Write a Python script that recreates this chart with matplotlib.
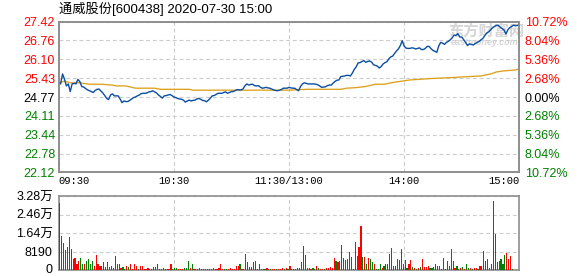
import numpy as np
import matplotlib.pyplot as plt
from matplotlib.transforms import ScaledTranslation

# Fonts: Latin from Liberation Sans, CJK glyphs fall back to Noto Sans CJK
plt.rcParams['font.family'] = ['Liberation Sans', 'Noto Sans CJK SC']

# Chart texts
TITLE = "通威股份[600438] 2020-07-30 15:00"
PREV_CLOSE = 24.77

PRICE_TICKS = [22.12, 22.78, 23.44, 24.11, 24.77, 25.43, 26.10, 26.76, 27.42]
PRICE_LABELS = ["22.12", "22.78", "23.44", "24.11", "24.77", "25.43", "26.10", "26.76", "27.42"]
PCT_LABELS = ["10.72%", "8.04%", "5.36%", "2.68%", "0.00%", "2.68%", "5.36%", "8.04%", "10.72%"]
TIME_TICKS = [0, 60, 120, 180, 240]
TIME_LABELS = ["09:30", "10:30", "11:30/13:00", "14:00", "15:00"]
VOL_TICKS = [0, 8190, 16380, 24570, 32760]
VOL_LABELS = ["0", "8190", "1.64万", "2.46万", "3.28万"]

# Minute prices, 09:30 .. 15:00 (241 points)
PRICE = [
    25.27, 25.23, 25.58, 25.40, 25.16, 25.23, 24.96, 25.23, 25.25, 25.23,
    25.39, 25.31, 25.14, 25.12, 25.07, 25.02, 24.99, 24.96, 24.93, 25.00,
    25.04, 25.05, 24.98, 24.91, 24.82, 24.72, 24.68, 24.84, 24.88, 24.81,
    24.81, 24.81, 24.70, 24.57, 24.63, 24.61, 24.61, 24.65, 24.70, 24.75,
    24.77, 24.81, 24.84, 24.89, 24.90, 24.90, 24.91, 24.95, 24.96, 24.99,
    24.95, 24.91, 24.84, 24.79, 24.73, 24.81, 24.82, 24.84, 24.86, 24.82,
    24.77, 24.75, 24.72, 24.70, 24.69, 24.66, 24.59, 24.63, 24.66, 24.63,
    24.65, 24.66, 24.70, 24.72, 24.69, 24.65, 24.64, 24.60, 24.66, 24.73,
    24.81, 24.82, 24.86, 24.90, 24.90, 24.90, 24.93, 24.95, 24.90, 24.93,
    24.96, 24.96, 25.00, 25.03, 25.02, 25.02, 25.05, 25.16, 25.23, 25.19,
    25.21, 25.22, 25.17, 25.16, 25.17, 25.12, 25.08, 25.09, 25.11, 25.09,
    25.08, 25.05, 25.02, 25.00, 24.99, 25.01, 25.03, 25.08, 25.08, 25.08,
    25.11, 25.09, 25.08, 25.08, 25.03, 24.99, 25.14, 25.23, 25.27, 25.25,
    25.23, 25.23, 25.23, 25.23, 25.22, 25.20, 25.16, 25.11, 25.12, 25.13,
    25.17, 25.19, 25.19, 25.26, 25.32, 25.36, 25.37, 25.49, 25.50, 25.51,
    25.53, 25.53, 25.51, 25.61, 25.74, 25.83, 25.97, 25.98, 26.02, 26.05,
    25.99, 26.02, 26.04, 26.00, 25.91, 25.88, 25.86, 25.79, 25.84, 25.93,
    25.98, 26.01, 26.11, 26.18, 26.21, 26.30, 26.39, 26.46, 26.58, 26.75,
    26.56, 26.49, 26.48, 26.48, 26.50, 26.49, 26.46, 26.48, 26.50, 26.44,
    26.44, 26.48, 26.55, 26.55, 26.47, 26.41, 26.38, 26.34, 26.56, 26.69,
    26.67, 26.62, 26.69, 26.73, 26.78, 26.85, 26.95, 26.94, 27.00, 26.88,
    26.88, 26.79, 26.69, 26.58, 26.64, 26.62, 26.60, 26.65, 26.69, 26.72,
    26.78, 26.83, 26.93, 27.02, 27.06, 27.13, 27.20, 27.25, 27.29, 27.29,
    27.23, 27.18, 27.13, 26.99, 27.13, 27.21, 27.25, 27.30, 27.28, 27.29,
    27.30,
]

# Average price line (minute, price)
AVG_MINUTE = [0, 3, 6, 11, 16, 22, 28, 30, 35, 40, 50, 53, 60, 68, 70, 120,
              125, 130, 147, 150, 155, 160, 165, 170, 173, 178, 183, 194, 204,
              214, 220, 225, 228, 232, 238, 240]
AVG_PRICE = [25.26, 25.33, 25.27, 25.27, 25.22, 25.22, 25.19, 25.16, 25.16,
             25.08, 25.08, 25.04, 25.04, 25.04, 25.01, 25.01, 25.03, 25.04,
             25.04, 25.08, 25.10, 25.14, 25.22, 25.22, 25.27, 25.32, 25.37,
             25.42, 25.45, 25.49, 25.51, 25.58, 25.65, 25.69, 25.72, 25.76]

# Minute volume (shares) and direction (1 = up / red, 0 = down / green)
VOLUME = [
    29700, 15300, 12100, 8950, 10300, 14900, 9400, 4850, 5300, 3000,
    4250, 5300, 2600, 2600, 3950, 4850, 2600, 3950, 2100, 6700,
    2600, 2100, 2100, 3500, 1350, 3500, 1350, 1800, 900, 6200,
    3000, 3000, 900, 1650, 450, 2100, 1650, 2600, 450, 2600,
    2100, 450, 2100, 2100, 450, 450, 900, 450, 450, 1650,
    1650, 3000, 450, 450, 900, 450, 450, 450, 2600, 450,
    1200, 1200, 450, 450, 450, 900, 1200, 3950, 1200, 2600,
    450, 450, 450, 1200, 450, 450, 450, 450, 450, 450,
    1200, 450, 450, 1200, 2600, 450, 450, 450, 450, 900,
    450, 450, 2100, 1800, 2600, 450, 450, 7100, 3500, 1350,
    1350, 3500, 3950, 450, 3000, 450, 450, 450, 900, 450,
    450, 450, 450, 450, 450, 450, 1200, 450, 1200, 450,
    2100,
    450, 450, 450, 1200, 1200, 3500, 10800, 6700, 900, 1200,
    450, 1200, 450, 2100, 900, 450, 450, 450, 900, 900,
    1650, 900, 5300, 3950, 3500, 3950, 11200, 5300, 4400, 4850,
    8050, 5750, 450, 12600, 6200, 10300, 19400, 5750, 5750, 2600,
    5300, 4850, 3500, 3000, 450, 450, 3000, 1200, 2100, 2600,
    2600, 7100, 9850, 1800, 2100, 4850, 4400, 9400, 3000,
    4400, 1200, 3000, 4400, 1650, 1200, 450, 1200, 1650, 4850,
    1650, 1650, 2100, 900, 1200, 1650, 2600, 2100, 2100, 450,
    5300, 450, 3950, 2100, 9400, 3950, 900, 2100, 450, 900,
    1350, 450, 2600, 900, 900, 450, 900, 900, 450, 1800,
    2100, 8500, 3950, 4850, 900, 3000, 30800, 16200, 3500, 3950,
    4850, 2600, 6700, 7600, 4850, 6200, 450, 0, 0, 0,
    24900,
]
VOL_UP = [
    0, 1, 0, 0, 1, 0, 1, 0, 1, 1,
    1, 0, 0, 1, 0, 0, 0, 0, 1, 1,
    1, 1, 0, 0, 0, 0, 1, 1, 0, 1,
    0, 0, 1, 0, 0, 1, 0, 1, 1, 1,
    1, 0, 1, 1, 1, 1, 1, 0, 0, 1,
    0, 0, 1, 0, 0, 1, 1, 1, 1, 0,
    0, 0, 1, 1, 1, 0, 0, 0, 1, 0,
    1, 1, 1, 1, 0, 0, 1, 0, 1, 0,
    1, 0, 1, 1, 1, 1, 0, 0, 1, 1,
    1, 1, 1, 1, 0, 1, 1, 1, 1, 0,
    0, 0, 1, 1, 0, 0, 0, 0, 1, 1,
    0, 1, 1, 0, 1, 1, 1, 0, 1, 0,
    1,
    0, 1, 0, 0, 0, 1, 1, 1, 1, 0,
    1, 0, 0, 1, 0, 1, 1, 0, 1, 1,
    1, 1, 1, 0, 1, 1, 1, 0, 0, 1,
    1, 0, 1, 1, 1, 1, 1, 0, 1, 0,
    1, 0, 0, 1, 0, 0, 0, 1, 0, 0,
    1, 1, 1, 0, 1, 1, 1, 1, 1,
    0, 0, 1, 1, 0, 1, 0, 1, 0, 1,
    1, 1, 1, 0, 0, 0, 0, 1, 1, 0,
    1, 0, 1, 0, 1, 1, 1, 0, 0, 1,
    0, 1, 0, 0, 1, 0, 1, 1, 0, 1,
    1, 1, 1, 0, 1, 1, 1, 0, 0, 1,
    0, 0, 0, 1, 1, 1, 0, 1, 1, 1,
    1,
]

# Styles
PRICE_COLOR = '#0a4ea3'
AVG_COLOR = '#dca11c'
UP_COLOR = '#ff0000'
DOWN_COLOR = '#008000'
FLAT_COLOR = '#000000'
GRID_COLOR = '#cccccc'
GRID_STYLE = (0, (3.5, 2.5))
SPINE_COLOR = '#8e8e8e'
WATERMARK_COLOR = '#d6d6d6'
W, H = 578, 276


def label_color(value):
    if value > PREV_CLOSE + 0.001:
        return UP_COLOR
    if value < PREV_CLOSE - 0.001:
        return DOWN_COLOR
    return FLAT_COLOR


def style_frame(ax):
    for spine in ax.spines.values():
        spine.set_color(SPINE_COLOR)
        spine.set_linewidth(1.2)
    ax.tick_params(length=0)


def main():
    fig = plt.figure(figsize=(W / 100, H / 100), dpi=100)
    left, right = 58.7, 519.3
    ax = fig.add_axes([left / W, 1 - 172.3 / H, (right - left) / W, 150.6 / H])
    axv = fig.add_axes([left / W, 1 - 270.3 / H, (right - left) / W, 74 / H])

    minutes = np.arange(len(PRICE))

    # Price panel
    ax.plot(minutes, PRICE, color=PRICE_COLOR, linewidth=1.0, zorder=3)
    ax.plot(AVG_MINUTE, AVG_PRICE, color=AVG_COLOR, linewidth=0.95, zorder=2)
    ax.set_xlim(0, 240)
    ax.set_ylim(PRICE_TICKS[0], PRICE_TICKS[-1])
    ax.set_yticks(PRICE_TICKS)
    ax.set_yticklabels(PRICE_LABELS, fontsize=9)
    for lab, v in zip(ax.get_yticklabels(), PRICE_TICKS):
        lab.set_color(label_color(v))
    ax.set_xticks(TIME_TICKS)
    ax.set_xticklabels(TIME_LABELS, fontsize=7.6, family='Liberation Mono')
    xlabs = ax.get_xticklabels()
    xlabs[0].set_horizontalalignment('left')
    xlabs[-1].set_horizontalalignment('right')
    ax.tick_params(axis='y', pad=2.6)
    ax.tick_params(axis='x', pad=3.0)
    ax.grid(True, color=GRID_COLOR, linestyle=GRID_STYLE, linewidth=0.8)
    style_frame(ax)

    # Percent labels on the right
    axr = ax.twinx()
    axr.set_ylim(ax.get_ylim())
    axr.set_yticks(PRICE_TICKS)
    axr.set_yticklabels(PCT_LABELS[::-1], fontsize=9)
    for lab, v in zip(axr.get_yticklabels(), PRICE_TICKS):
        lab.set_color(label_color(v))
    axr.tick_params(axis='y', pad=3.8)
    style_frame(axr)

    # Watermark
    ax.text(0.845, 0.938, "东方财富网", transform=ax.transAxes, fontsize=11,
            fontweight='bold', color=WATERMARK_COLOR, va='center', ha='left',
            family=['Noto Sans CJK SC'], zorder=1)
    ax.text(0.998, 0.862, "eastmoney.com", transform=ax.transAxes, fontsize=6.5,
            fontweight='bold', style='italic', color=WATERMARK_COLOR,
            va='center', ha='right', zorder=1)

    # Volume panel
    colors = [UP_COLOR if u else DOWN_COLOR for u in VOL_UP]
    axv.bar(minutes + 0.5, VOLUME, width=0.6, color=colors, linewidth=0,
            antialiased=False, zorder=3)
    axv.set_xlim(0, 240)
    axv.set_ylim(VOL_TICKS[0], VOL_TICKS[-1])
    axv.set_yticks(VOL_TICKS)
    axv.set_yticklabels(VOL_LABELS, fontsize=9, color='#000000')
    axv.set_xticks(TIME_TICKS)
    axv.set_xticklabels([])
    axv.tick_params(axis='y', pad=4.2)
    axv.grid(True, color=GRID_COLOR, linestyle=GRID_STYLE, linewidth=0.8)
    style_frame(axv)
    zero_label = axv.get_yticklabels()[0]
    zero_label.set_transform(zero_label.get_transform()
                             + ScaledTranslation(0, 2 / 100, fig.dpi_scale_trans))

    fig.text(59 / W, 1 - 9.2 / H, TITLE, fontsize=9.5, va='center', ha='left',
             color='#000000')

    fig.savefig('out.png', dpi=100)


if __name__ == "__main__":
    main()
